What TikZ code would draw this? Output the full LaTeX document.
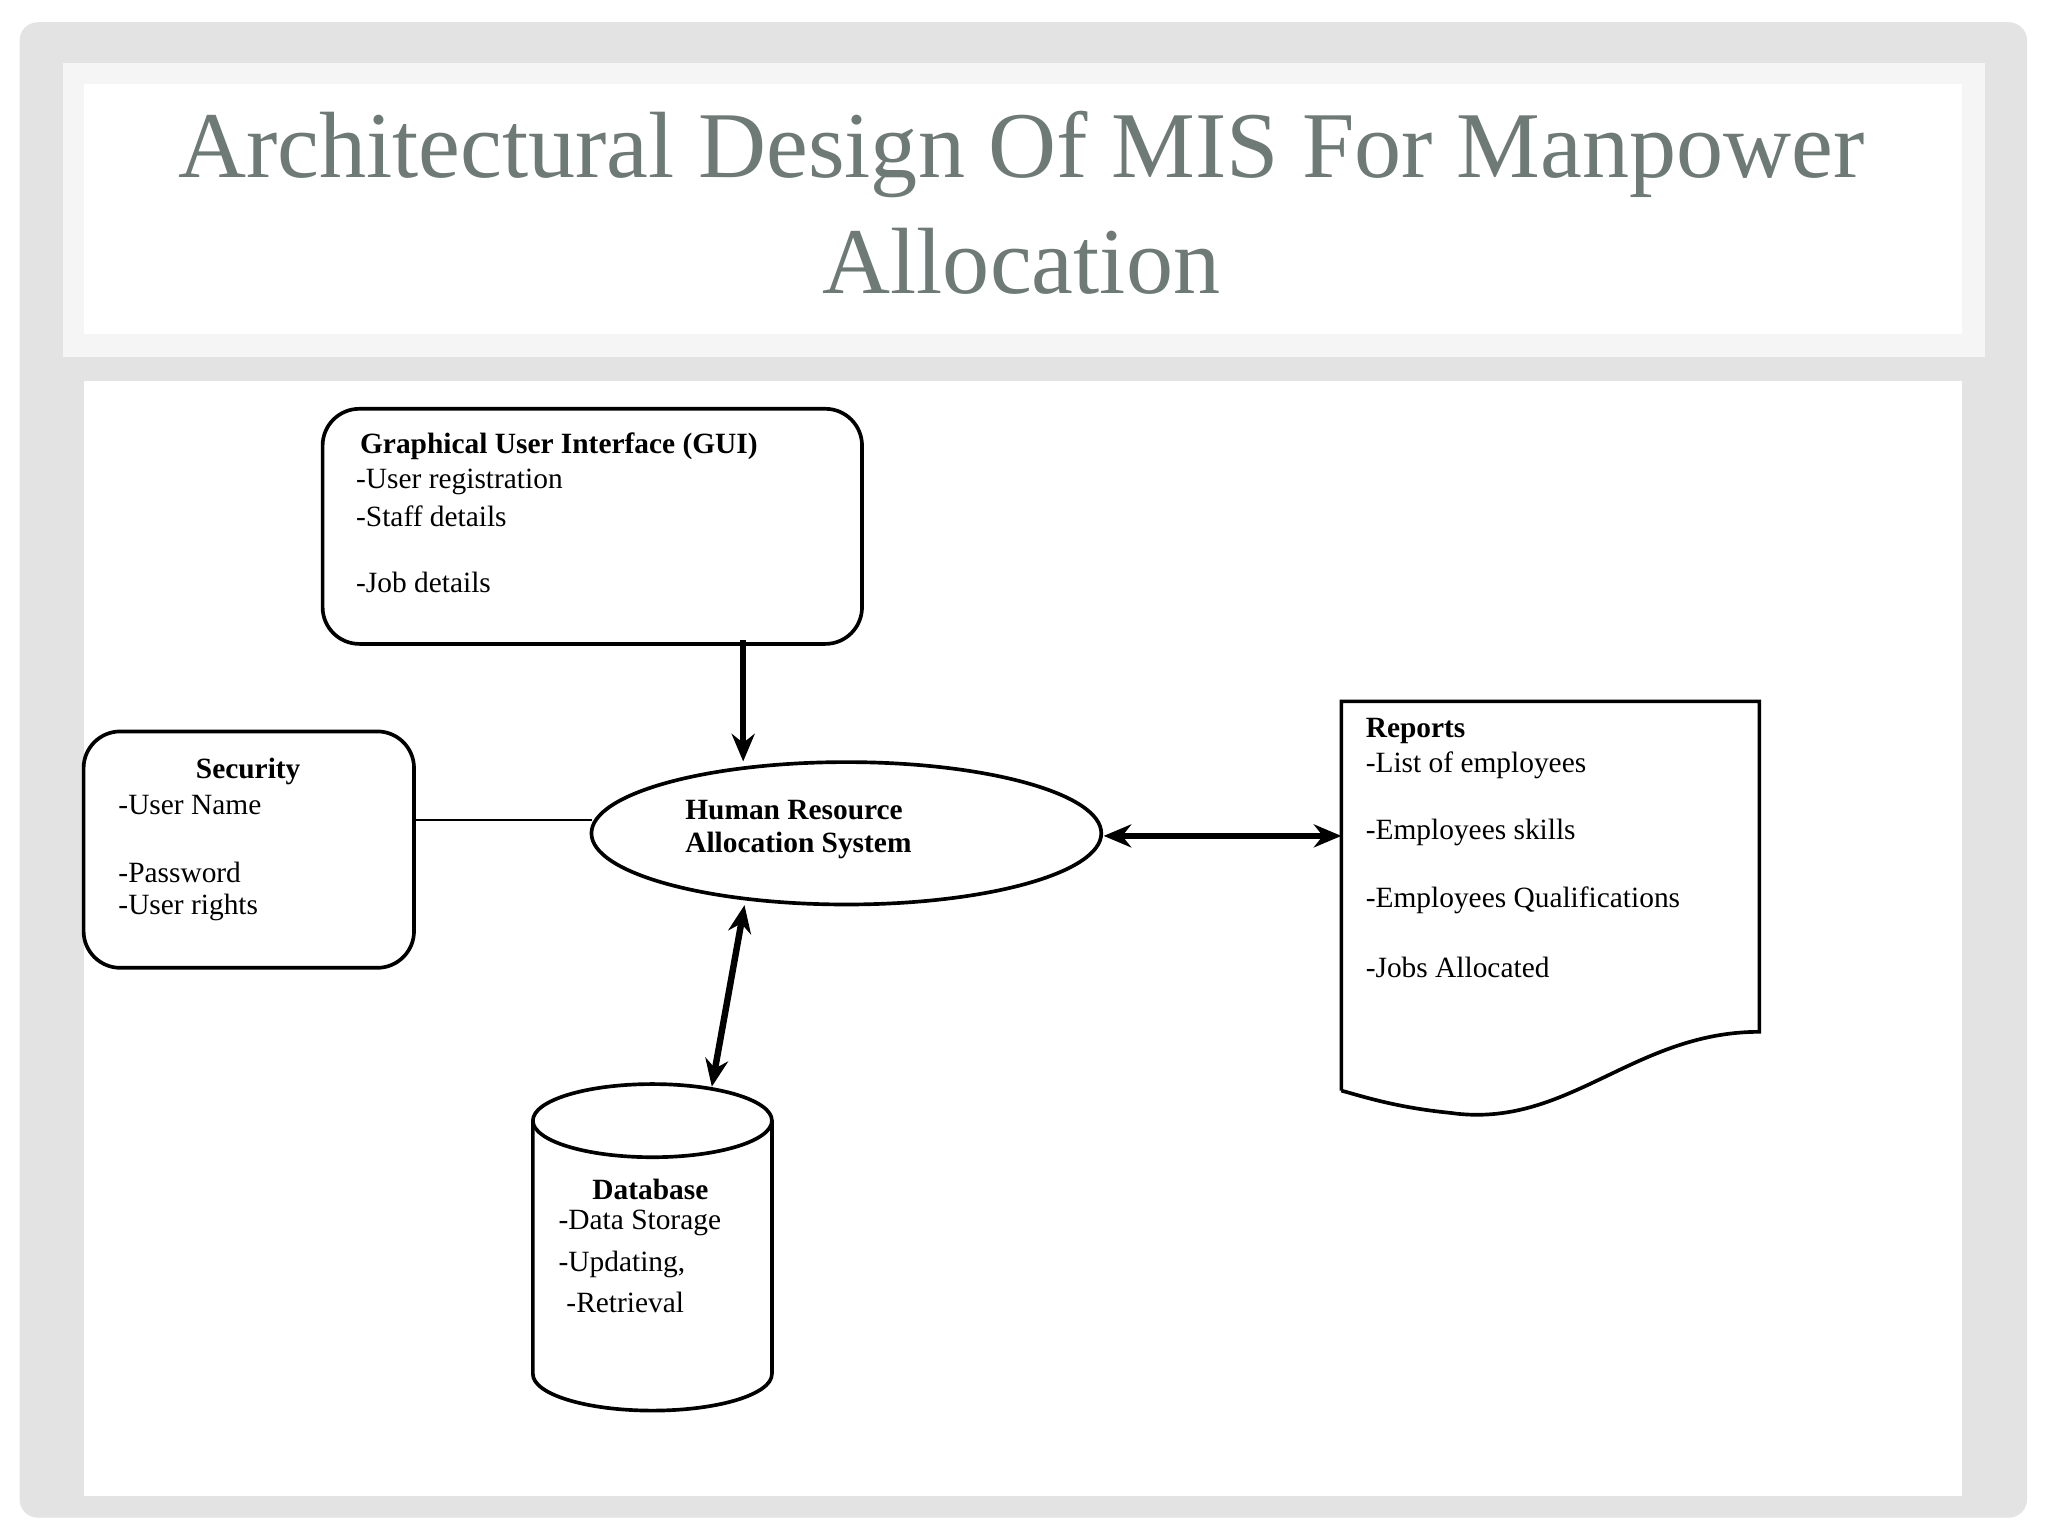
\documentclass[tikz,border=0pt]{standalone}
\usepackage{fontspec}
\setmainfont{Liberation Serif}
\usetikzlibrary{shapes.geometric,arrows.meta}
\definecolor{titlegrey}{HTML}{6E7A75}
\begin{document}
\begin{tikzpicture}[x=0.01cm,y=-0.01cm,
  txt/.style={anchor=west,inner sep=0,font=\fontsize{6.4}{7}\selectfont},
  btxt/.style={txt,font=\fontsize{6.4}{7}\selectfont\bfseries},
  arr/.style={line width=1.4pt,-{Stealth[length=6pt,width=5pt]}},
  darr/.style={line width=1.4pt,{Stealth[length=6pt,width=5pt]}-{Stealth[length=6pt,width=5pt]}}]
\useasboundingbox (0,0) rectangle (1568,1176);
\fill[white] (0,0) rectangle (1568,1176);
\fill[gray!22,rounded corners=4pt] (15,17) rectangle (1552,1162);
\fill[gray!8] (48,48) rectangle (1520,273);
\fill[white] (64,64) rectangle (1502,256);
\fill[white] (64,292) rectangle (1502,1145);
\node[font=\fontsize{20.5}{24}\selectfont,text=titlegrey] (t1) at (782,118) {Architectural Design Of MIS For Manpower};
\node[font=\fontsize{20.5}{24}\selectfont,text=titlegrey] (t2) at (782,200) {Allocation};
% GUI
\draw[thick,rounded corners=8pt] (247,313) rectangle (660,493);
\coordinate (gui) at (569,490);
\node[btxt] at (275,342) {Graphical User Interface (GUI)};
\node[txt] at (272,369) {-User registration};
\node[txt] at (272,395) {-Staff details};
\node[txt] at (272,446) {-Job details};
% Security
\draw[thick,rounded corners=8pt] (64,560) rectangle (317,741);
\coordinate (sec) at (317,628);
\node[btxt,anchor=center] at (190,591) {Security};
\node[txt] at (90,616) {-User Name};
\node[txt] at (90,668) {-Password};
\node[txt] at (90,695) {-User rights};
% Ellipse
\node[ellipse,draw,thick,minimum width=111pt,minimum height=31pt,inner sep=0] (hr) at (648,638) {};
\node[btxt] at (524,620) {Human Resource};
\node[btxt] at (524,647) {Allocation System};
% Reports
\draw[thick] (1027,835) -- (1027,537) -- (1347,537) -- (1347,790)
  .. controls (1250,790) and (1200,865) .. (1110,852)
  .. controls (1070,848) and (1045,840) .. (1027,835);
\coordinate (rep) at (1027,640);
\node[btxt] at (1045,560) {Reports};
\node[txt] at (1045,586) {-List of employees};
\node[txt] at (1045,637) {-Employees skills};
\node[txt] at (1045,689) {-Employees Qualifications};
\node[txt] at (1045,741) {-Jobs Allocated};
% Database
\draw[thick] (408,858) -- (408,1052) arc[start angle=180,end angle=0,x radius=91.5,y radius=28] -- (591,858);
\draw[thick] (499.5,858) ellipse[x radius=91.5,y radius=28];
\coordinate (db) at (545,832);
\node[btxt,anchor=center] at (498,911) {Database};
\node[txt] at (427,936) {-Data Storage};
\node[txt] at (427,968) {-Updating,};
\node[txt] at (433,997) {-Retrieval};
% connectors
\coordinate (hrtop) at (569,583);
\coordinate (hrbot) at (570,693);
\coordinate (hrright) at (845,640);
\draw[arr] (gui) -- (hrtop);
\draw[thin] (sec) -- (453,628);
\draw[darr] (hrright) -- (rep);
\draw[darr] (hrbot) -- (db);
\end{tikzpicture}
\end{document}
